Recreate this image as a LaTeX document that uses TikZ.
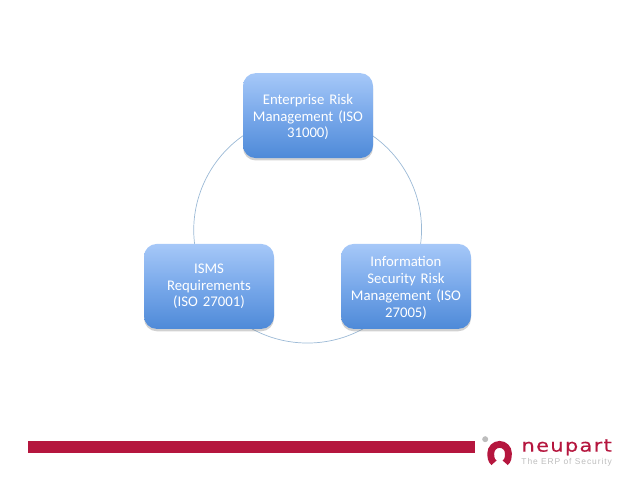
\documentclass[tikz,border=0pt]{standalone}
\usepackage{fontspec}
\setmainfont{Carlito}
\newfontfamily\brandfont[LetterSpace=7,FakeBold=0.4,FakeStretch=1.2]{DejaVu Sans}
\newfontfamily\tagfont[LetterSpace=11]{Liberation Sans}
\usetikzlibrary{backgrounds,shadows}
\definecolor{boxtop}{HTML}{A6C8F8}
\definecolor{boxmid}{HTML}{78A8EA}
\definecolor{boxlow}{HTML}{4E8AD8}
\definecolor{ringblue}{HTML}{9CBAD6}
\definecolor{barred}{HTML}{B5163E}
\definecolor{taggrey}{HTML}{BDBDBD}
\tikzset{
	stepbox/.style={rounded corners=0.32cm, inner sep=0pt, minimum width=3.25cm, minimum height=2.125cm,
		text width=3.25cm, align=center, text=white, font=\fontsize{10.5}{11.9}\selectfont,
		top color=boxtop, bottom color=boxlow, middle color=boxmid,
		drop shadow={shadow xshift=0cm, shadow yshift=-0.06cm, opacity=0.3, fill=black!60}},
	ring/.style={line width=0.5pt, color=ringblue, bend left=60, looseness=1.135}
}

\begin{document}
\begin{tikzpicture}
		%%%%% START %%%%%
		\useasboundingbox (0, 0) rectangle (15.95, 11.95);
		
		\node[stepbox] (erm) at (7.7, 9.06) {\rule{0pt}{9.5pt}Enterprise Risk\\Management (ISO\\31000)};
		\node[stepbox] (isrm) at (10.15, 4.79) {\rule{0pt}{9.5pt}Information\\Security Risk\\Management (ISO\\27005)};
		\node[stepbox] (isms) at (5.225, 4.79) {ISMS\\Requirements\\(ISO 27001)};
		
		\begin{scope}[on background layer]
			\draw[ring] (erm.center) to (isrm.center);
			\draw[ring] (isrm.center) to (isms.center);
			\draw[ring] (isms.center) to (erm.center);
		\end{scope}
		
		% footer
		\fill[barred] (0.7, 0.625) rectangle (11.875, 0.925);
		\fill[taggrey] (12.13, 0.97) circle (0.075);
		\draw[line width=0.17cm, color=barred] (12.35, 0.38) to[out=140, in=-90] (12.27, 0.62) arc (180:0:0.22) to[out=-90, in=40] (12.63, 0.38);
		\node[anchor=base west, inner sep=0pt, text=barred, font=\brandfont\fontsize{12.5}{13}\selectfont] (brand) at (13.03, 0.66) {neupart};
		\node[anchor=base west, inner sep=0pt, text=taggrey, font=\tagfont\fontsize{6}{6}\selectfont] (tagline) at (13.03, 0.34) {The ERP of Security};
		
		%%%%% END %%%%%
	\end{tikzpicture}
\end{document}
